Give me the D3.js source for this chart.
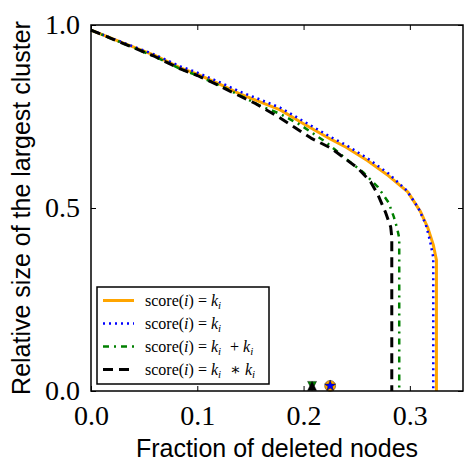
<!DOCTYPE html>
<html>
<head>
<meta charset="utf-8">
<script src="https://cdn.jsdelivr.net/npm/d3@7/dist/d3.min.js"></script>
<style>
  body { margin: 0; background: #fff; }
  svg { display: block; }
</style>
</head>
<body>
<svg id="chart" width="474" height="474"></svg>
<script>
const W = 474, H = 474;
const MARGIN = { left: 91, top: 25, right: 11, bottom: 83 };

// curves
const degreeX = [0, 0.03, 0.06, 0.084, 0.10, 0.12, 0.14, 0.155, 0.178, 0.20, 0.2255, 0.24, 0.26, 0.28, 0.298, 0.31, 0.317, 0.322, 0.325, 0.325];
const degreeY = [0.986, 0.951, 0.917, 0.883, 0.866, 0.840, 0.812, 0.795, 0.768, 0.730, 0.688, 0.666, 0.630, 0.588, 0.544, 0.49, 0.445, 0.40, 0.358, 0.0];

const dotX = [0, 0.03, 0.06, 0.084, 0.10, 0.12, 0.14, 0.155, 0.178, 0.20, 0.2255, 0.24, 0.26, 0.28, 0.297, 0.308, 0.315, 0.319, 0.322, 0.322];
const dotY = [0.986, 0.952, 0.919, 0.887, 0.870, 0.845, 0.818, 0.801, 0.774, 0.737, 0.694, 0.672, 0.636, 0.594, 0.548, 0.50, 0.455, 0.41, 0.365, 0.0];

const sumX = [0, 0.03, 0.06, 0.084, 0.10, 0.12, 0.14, 0.158, 0.178, 0.197, 0.221, 0.238, 0.256, 0.270, 0.280, 0.285, 0.288, 0.290, 0.290];
const sumY = [0.986, 0.950, 0.914, 0.880, 0.862, 0.836, 0.808, 0.781, 0.757, 0.727, 0.680, 0.639, 0.598, 0.557, 0.515, 0.475, 0.445, 0.418, 0.0];

const prodX = [0, 0.03, 0.06, 0.084, 0.10, 0.12, 0.14, 0.155, 0.178, 0.207, 0.2255, 0.251, 0.263, 0.270, 0.277, 0.282, 0.283, 0.283];
const prodY = [0.986, 0.950, 0.914, 0.880, 0.862, 0.835, 0.806, 0.785, 0.746, 0.691, 0.664, 0.609, 0.572, 0.536, 0.489, 0.448, 0.42, 0.0];

// single markers near the x axis
const markerX = [0.225, 0.225, 0.208, 0.208];
const markerY = [0.014, 0.014, 0.014, 0.014];
const markerShape = ["circle", "star", "down", "up"];

const xTicks = [0.0, 0.1, 0.2, 0.3];
const yTicks = [0.0, 0.5, 1.0];

const series = [
  { xs: degreeX, ys: degreeY, color: "#FFA500", width: 3, dash: null, op: "" },
  { xs: dotX, ys: dotY, color: "#0000FF", width: 2.5, dash: "2,4", op: "" },
  { xs: sumX, ys: sumY, color: "#008000", width: 2.5, dash: "6,5,2,5", op: "+" },
  { xs: prodX, ys: prodY, color: "#000000", width: 3, dash: "10,6", op: "*" }
];
const markerColor = ["#FFA500", "#0000FF", "#008000", "#000000"];

const svg = d3.select("#chart");
const iw = W - MARGIN.left - MARGIN.right;
const ih = H - MARGIN.top - MARGIN.bottom;

const x = d3.scaleLinear().domain([0, 0.35]).range([0, iw]);
const y = d3.scaleLinear().domain([0, 1]).range([ih, 0]);

const g = svg.append("g").attr("transform", `translate(${MARGIN.left},${MARGIN.top})`);

// curves
const line = d3.line().x(d => x(d[0])).y(d => y(d[1]));
series.forEach(s => {
  g.append("path")
    .datum(s.xs.map((v, i) => [v, s.ys[i]]))
    .attr("d", line)
    .attr("fill", "none")
    .attr("stroke", s.color)
    .attr("stroke-width", s.width)
    .attr("stroke-linejoin", "round")
    .attr("stroke-dasharray", s.dash);
});

// markers (triangles centred on their box, like matplotlib's ^ and v)
const S = 4.5;
const markerPath = {
  circle: d3.symbol(d3.symbolCircle, 95)(),
  star: d3.symbol(d3.symbolStar, 38)(),
  up: d3.line()([[0, -S], [S, S], [-S, S]]) + "Z",
  down: d3.line()([[0, S], [S, -S], [-S, -S]]) + "Z"
};
markerX.forEach((mx, i) => {
  g.append("path")
    .attr("d", markerPath[markerShape[i]])
    .attr("transform", `translate(${x(mx)},${y(markerY[i])})`)
    .attr("fill", markerColor[i])
    .attr("stroke", "#000")
    .attr("stroke-width", 0.4);
});

// axes with inward ticks
const tickFont = "'Liberation Serif', 'DejaVu Serif', serif";
const bottom = g.append("g").attr("transform", `translate(0,${ih})`)
  .call(d3.axisBottom(x).tickValues(xTicks).tickFormat(d3.format(".1f")).tickSizeInner(-5).tickSizeOuter(0).tickPadding(14));
const left = g.append("g")
  .call(d3.axisLeft(y).tickValues(yTicks).tickFormat(d3.format(".1f")).tickSizeInner(-5).tickSizeOuter(0).tickPadding(11));
g.append("g")
  .call(d3.axisTop(x).tickValues(xTicks).tickFormat("").tickSizeInner(-5).tickSizeOuter(0));
g.append("g").attr("transform", `translate(${iw},0)`)
  .call(d3.axisRight(y).tickValues(yTicks).tickFormat("").tickSizeInner(-5).tickSizeOuter(0));

g.selectAll(".domain").remove();
g.selectAll(".tick line").attr("stroke", "#000").attr("stroke-width", 1);
[bottom, left].forEach(a => a.selectAll("text")
  .attr("font-family", tickFont).attr("font-size", 28).attr("fill", "#000"));

g.append("rect")
  .attr("width", iw).attr("height", ih)
  .attr("fill", "none").attr("stroke", "#000").attr("stroke-width", 1.5);

// legend
const lg = g.append("g").attr("transform", "translate(6,262)");
lg.append("rect").attr("width", 172).attr("height", 97)
  .attr("fill", "#fff").attr("stroke", "#000").attr("stroke-width", 1.5);
series.forEach((s, i) => {
  const ly = 13.5 + i * 23;
  lg.append("line")
    .attr("x1", 6).attr("x2", 37).attr("y1", ly).attr("y2", ly)
    .attr("stroke", s.color).attr("stroke-width", s.width)
    .attr("stroke-dasharray", s.dash);
  const t = lg.append("text").attr("x", 48).attr("y", ly + 5)
    .attr("font-family", tickFont).attr("font-size", 16).attr("fill", "#000");
  t.append("tspan").text("score(");
  t.append("tspan").attr("font-style", "italic").text("i");
  t.append("tspan").text(") = ");
  t.append("tspan").attr("font-style", "italic").text("k");
  t.append("tspan").attr("font-style", "italic").attr("font-size", 11).attr("dy", 3).text("i");
  if (s.op) {
    t.append("tspan").attr("dy", -3).attr("dx", 9).text(s.op === "*" ? "\u2217 " : "+ ");
    t.append("tspan").attr("font-style", "italic").text("k");
    t.append("tspan").attr("font-style", "italic").attr("font-size", 11).attr("dy", 3).text("i");
  }
});

// axis titles
svg.append("text")
  .attr("x", MARGIN.left + iw / 2).attr("y", 457)
  .attr("text-anchor", "middle")
  .attr("font-family", "'Liberation Sans', Arial, sans-serif").attr("font-size", 25)
  .text("Fraction of deleted nodes");
svg.append("text")
  .attr("transform", `translate(30,${MARGIN.top + ih / 2}) rotate(-90)`)
  .attr("text-anchor", "middle")
  .attr("font-family", "'Liberation Sans', Arial, sans-serif").attr("font-size", 25)
  .text("Relative size of the largest cluster");
</script>
</body>
</html>
